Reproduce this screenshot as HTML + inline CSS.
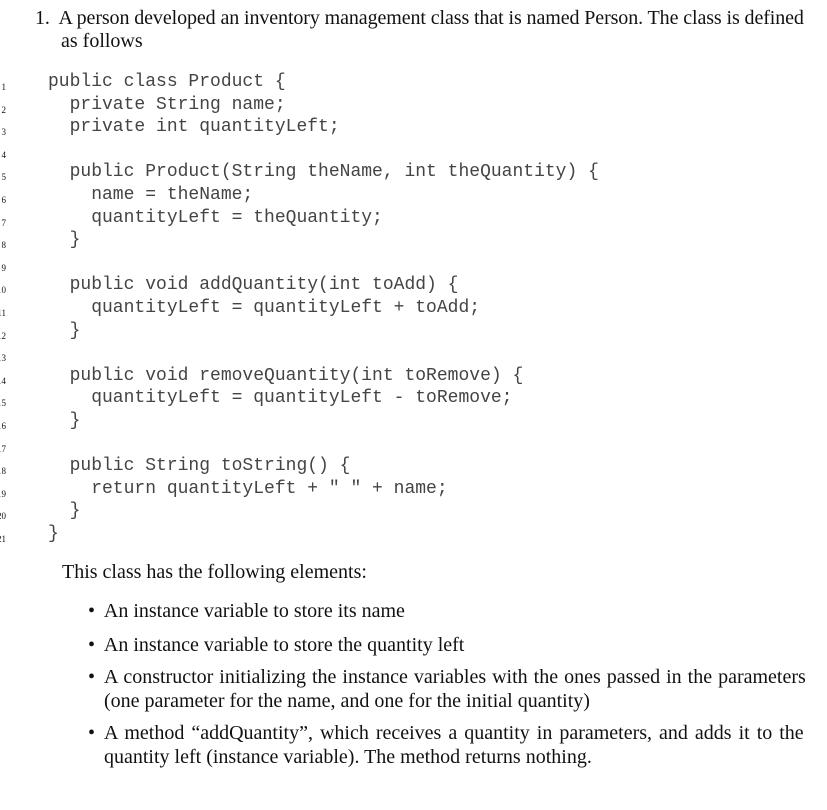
<!DOCTYPE html>
<html><head><meta charset="utf-8"><style>
body{margin:0;width:827px;height:810px;background:#fff;position:relative;overflow:hidden;font-family:"Liberation Serif",serif;color:#111}
.t{position:absolute;font-size:20px;line-height:23px;white-space:nowrap}
.c{position:absolute;left:48px;font-family:"Liberation Mono",monospace;font-size:18px;white-space:pre;line-height:22.6px;top:71px;margin:0;color:#444}
.n{position:absolute;right:821px;font-size:9px;font-family:"Liberation Serif",serif;top:76px;line-height:22.6px;text-align:right;margin:0}
</style></head><body>
<div class="t" style="left:35px;top:7px;letter-spacing:-0.1px">1.&nbsp; A person developed an inventory management class that is named Person. The class is defined</div>
<div class="t" style="left:61px;top:30px">as follows</div>
<pre class="n">1
2
3
4
5
6
7
8
9
10
11
12
13
14
15
16
17
18
19
20
21</pre>
<pre class="c">public class Product {
  private String name;
  private int quantityLeft;

  public Product(String theName, int theQuantity) {
    name = theName;
    quantityLeft = theQuantity;
  }

  public void addQuantity(int toAdd) {
    quantityLeft = quantityLeft + toAdd;
  }

  public void removeQuantity(int toRemove) {
    quantityLeft = quantityLeft - toRemove;
  }

  public String toString() {
    return quantityLeft + " " + name;
  }
}</pre>
<div class="t" style="left:62px;top:561px">This class has the following elements:</div>
<div class="t" style="left:88px;top:600px">•&nbsp; An instance variable to store its name</div>
<div class="t" style="left:88px;top:634px">•&nbsp; An instance variable to store the quantity left</div>
<div class="t" style="left:88px;top:666px">•</div>
<div class="t" style="left:104px;top:666px;word-spacing:1px">A constructor initializing the instance variables with the ones passed in the parameters</div>
<div class="t" style="left:104px;top:690px">(one parameter for the name, and one for the initial quantity)</div>
<div class="t" style="left:88px;top:722px">•</div>
<div class="t" style="left:104px;top:722px;word-spacing:2px">A method “addQuantity”, which receives a quantity in parameters, and adds it to the</div>
<div class="t" style="left:104px;top:746px">quantity left (instance variable). The method returns nothing.</div>
</body></html>
